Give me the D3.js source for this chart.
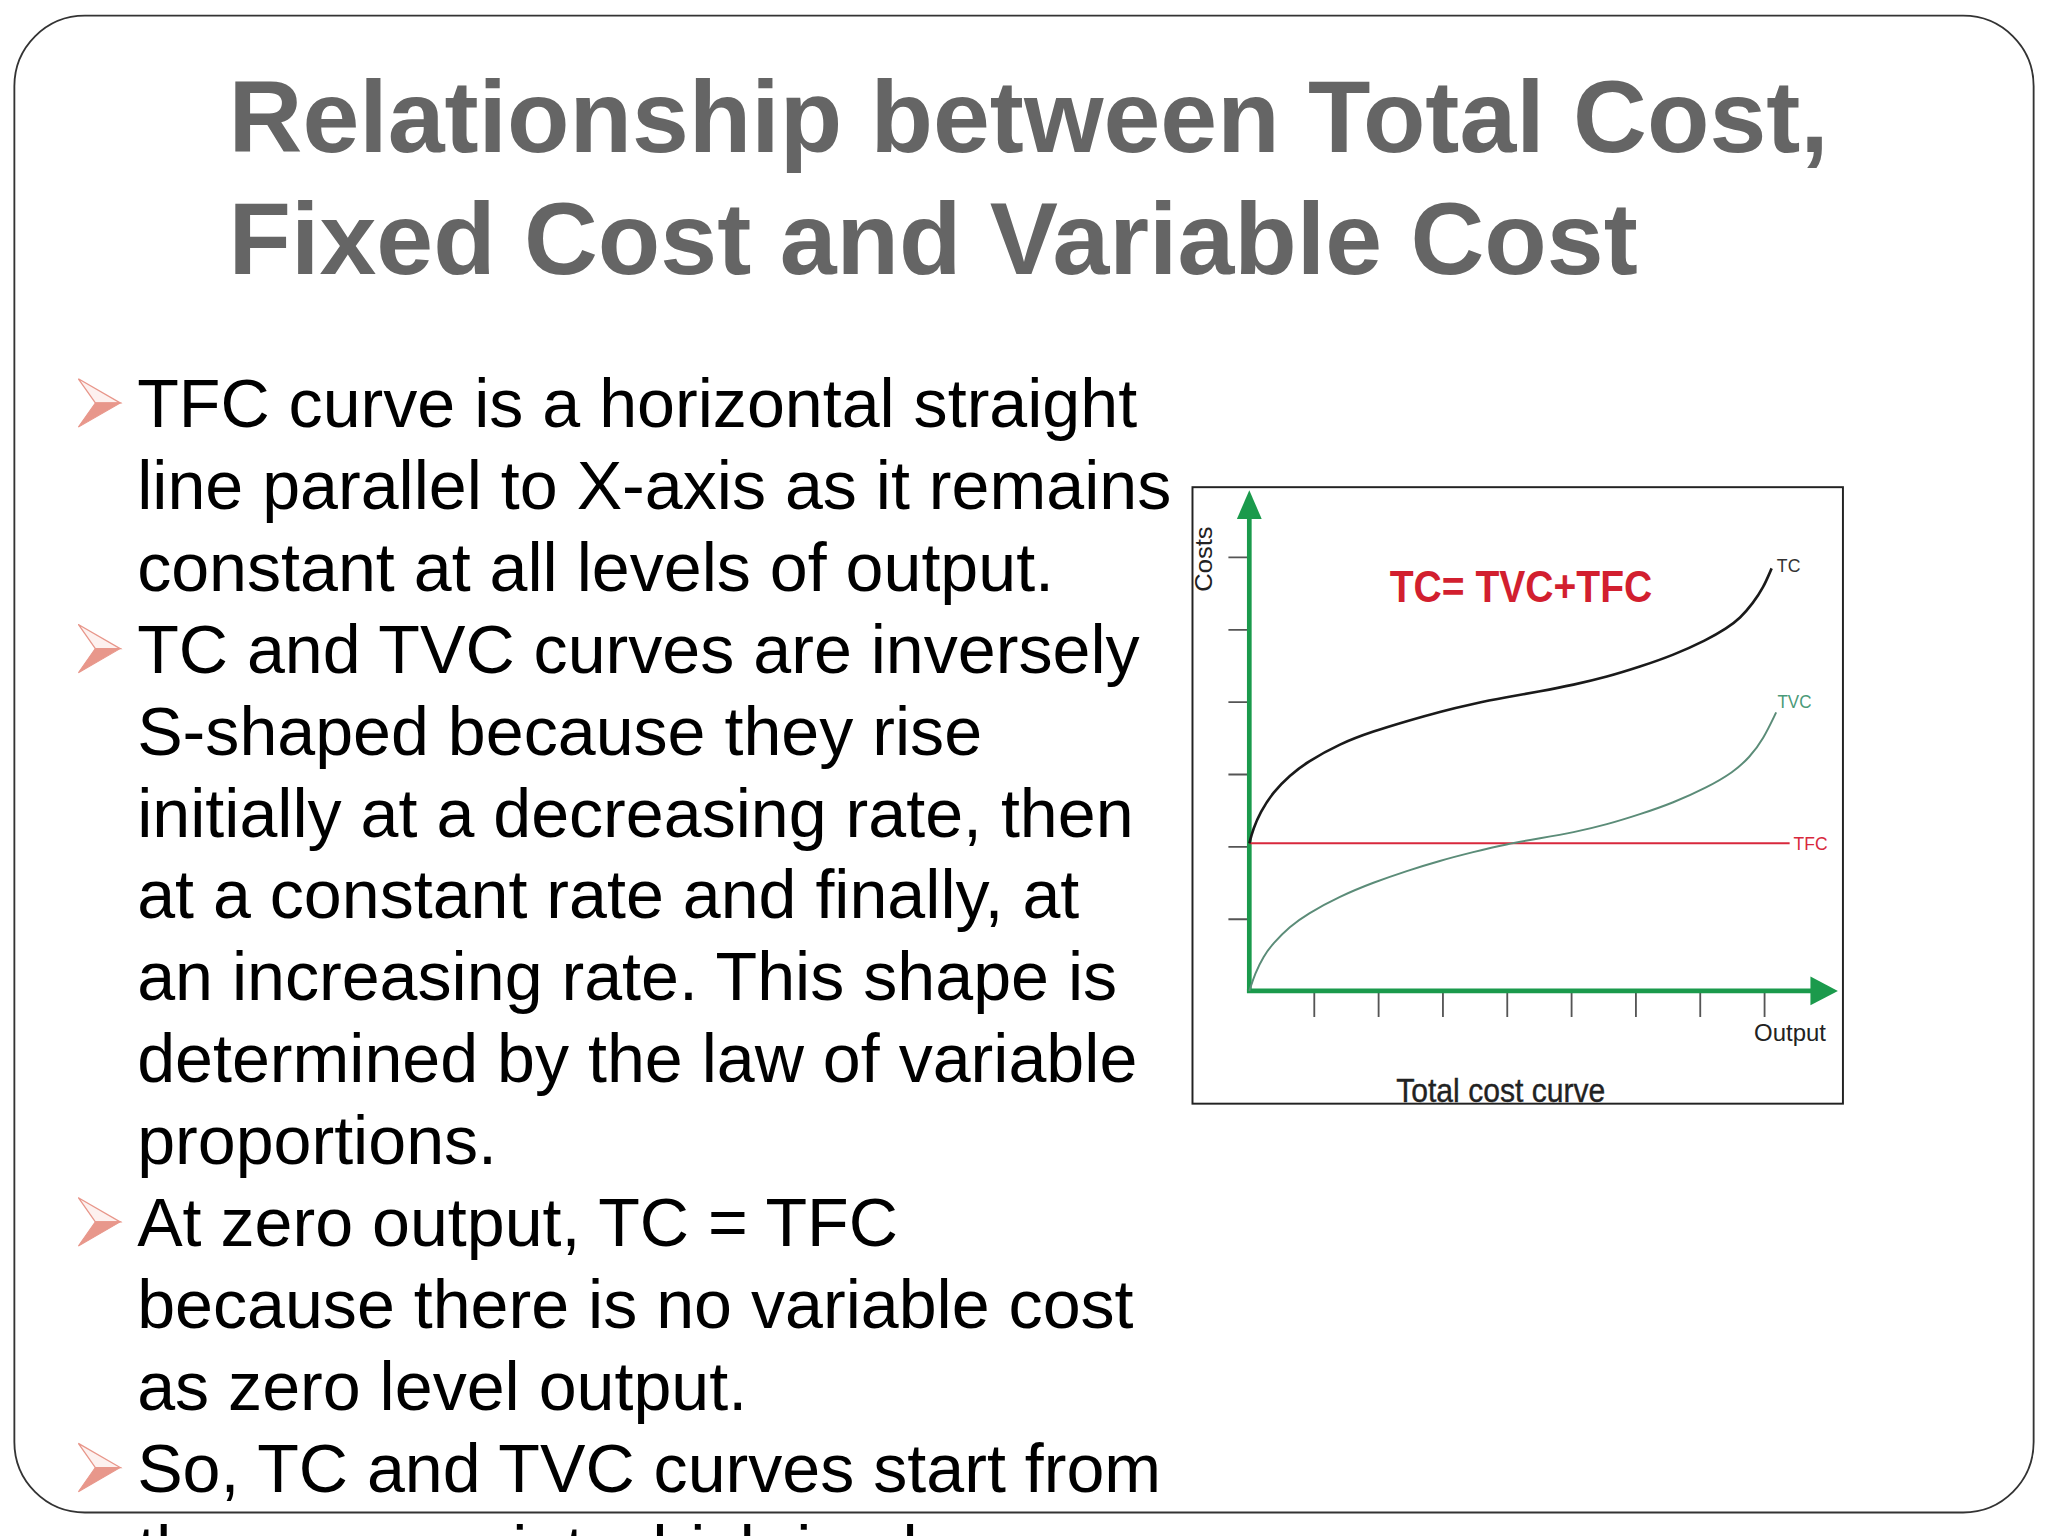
<!DOCTYPE html>
<html>
<head>
<meta charset="utf-8">
<script src="https://cdn.jsdelivr.net/npm/d3@7"></script>
<style>
  html, body { margin: 0; padding: 0; background: #fff; }
  svg { display: block; }
  text { font-family: "Liberation Sans", Arial, sans-serif; }
</style>
</head>
<body>
<svg id="slide" width="2048" height="1536" viewBox="0 0 1568 1176"></svg>
<script>
// slide text
const titleLines = ["Relationship between Total Cost,", "Fixed Cost and Variable Cost"];
const bodyLines = [
  "TFC curve is a horizontal straight",
  "line parallel to X-axis as it remains",
  "constant at all levels of output.",
  "TC and TVC curves are inversely",
  "S-shaped because they rise",
  "initially at a decreasing rate, then",
  "at a constant rate and finally, at",
  "an increasing rate. This shape is",
  "determined by the law of variable",
  "proportions.",
  "At zero output, TC = TFC",
  "because there is no variable cost",
  "as zero level output.",
  "So, TC and TVC curves start from",
  "the same point which is also"
];
const bulletRows = [0, 3, 10, 13];

// chart data (output units, cost units)
const xTicks = [1, 2, 3, 4, 5, 6, 7, 8];
const yTicks = [1, 2, 3, 4, 5, 6];
const tcOutput = [0, 0.06, 0.17, 0.37, 0.63, 0.89, 1.41, 1.93, 2.45, 2.96, 3.48, 4.0, 4.52, 5.04, 5.56, 6.07, 6.59, 7.11, 7.42, 7.63, 7.83, 7.99, 8.12];
const tcCost   = [2.04, 2.24, 2.47, 2.75, 2.98, 3.16, 3.42, 3.59, 3.73, 3.86, 3.97, 4.06, 4.14, 4.23, 4.34, 4.48, 4.64, 4.85, 5.01, 5.15, 5.36, 5.57, 5.84];
const tvcOutput = [0, 0.09, 0.22, 0.37, 0.63, 0.89, 1.41, 1.93, 2.45, 2.96, 3.48, 4.0, 4.52, 5.04, 5.56, 6.07, 6.59, 7.11, 7.52, 7.78, 7.99, 8.19];
const tvcCost   = [0, 0.245, 0.48, 0.66, 0.89, 1.06, 1.31, 1.50, 1.66, 1.80, 1.92, 2.03, 2.11, 2.19, 2.30, 2.44, 2.60, 2.81, 3.02, 3.23, 3.48, 3.85];
const tfcOutput = [0, 8.4];
const tfcCost = [2.04, 2.04];
const xMax = 9.15, yMax = 6.92;

const svg = d3.select("#slide");

// slide frame
svg.append("rect")
  .attr("x", 11).attr("y", 12).attr("width", 1546).attr("height", 1146)
  .attr("rx", 54).attr("ry", 54)
  .attr("fill", "#fff").attr("stroke", "#333").attr("stroke-width", 1.4);

// title
svg.append("g").selectAll("text").data(titleLines).join("text")
  .attr("x", 175).attr("y", (d, i) => 116 + i * 94)
  .attr("font-size", 78.3).attr("font-weight", "bold").attr("fill", "#656565")
  .text(d => d);

// body text
const lineH = 62.7;
svg.append("g").selectAll("text").data(bodyLines).join("text")
  .attr("x", 105).attr("y", (d, i) => 327 + i * lineH)
  .attr("font-size", 52.2).attr("fill", "#000")
  .text(d => d);

// bullets
const bul = svg.append("g").selectAll("g").data(bulletRows).join("g")
  .attr("transform", d => `translate(60,${327 + d * lineH - 37})`);
bul.append("path").attr("d", "M0,0 L32,18.5 L13,18.5 Z")
  .attr("fill", "#fdf1ef").attr("stroke", "#e8968a").attr("stroke-width", 1);
bul.append("path").attr("d", "M13,18.5 L32,18.5 L0,37 Z")
  .attr("fill", "#e8978b").attr("stroke", "#e8978b").attr("stroke-width", 0.8);

// chart box
const box = { x: 913, y: 373, w: 498, h: 472 };
svg.append("clipPath").attr("id", "boxclip").append("rect")
  .attr("x", box.x).attr("y", box.y).attr("width", box.w).attr("height", box.h);
svg.append("rect")
  .attr("x", box.x).attr("y", box.y).attr("width", box.w).attr("height", box.h)
  .attr("fill", "#fff").attr("stroke", "#222").attr("stroke-width", 1.5);

const chart = svg.append("g").attr("clip-path", "url(#boxclip)");

const x = d3.scaleLinear().domain([0, 8]).range([956.5, 956.5 + 8 * 49.25]);
const y = d3.scaleLinear().domain([0, 6]).range([758.7, 758.7 - 6 * 55.4]);

// ticks
chart.append("g")
  .attr("transform", `translate(0,${y(0)})`)
  .call(d3.axisBottom(x).tickValues(xTicks).tickSize(20).tickFormat(""))
  .call(g => g.select(".domain").remove())
  .call(g => g.selectAll("line").attr("stroke", "#555").attr("stroke-width", 1.4));
chart.append("g")
  .attr("transform", `translate(${x(0)},0)`)
  .call(d3.axisLeft(y).tickValues(yTicks).tickSize(16).tickFormat(""))
  .call(g => g.select(".domain").remove())
  .call(g => g.selectAll("line").attr("stroke", "#555").attr("stroke-width", 1.4));

// axes with arrowheads
const green = "#1b9a4c";
chart.append("line")
  .attr("x1", x(0)).attr("y1", y(0) + 1.5).attr("x2", x(0)).attr("y2", y(yMax) + 18)
  .attr("stroke", green).attr("stroke-width", 3.6);
chart.append("path")
  .attr("d", `M${x(0)},${y(yMax)} L${x(0) + 9.5},${y(yMax) + 22} L${x(0) - 9.5},${y(yMax) + 22} Z`)
  .attr("fill", green);
chart.append("line")
  .attr("x1", x(0) - 1.8).attr("y1", y(0)).attr("x2", x(xMax) - 18).attr("y2", y(0))
  .attr("stroke", green).attr("stroke-width", 3.6);
chart.append("path")
  .attr("d", `M${x(xMax)},${y(0)} L${x(xMax) - 21},${y(0) - 11} L${x(xMax) - 21},${y(0) + 11} Z`)
  .attr("fill", green);

// curves
const line = d3.line().x(d => x(d[0])).y(d => y(d[1])).curve(d3.curveBasis);
const series = [
  { key: "TFC", pts: d3.zip(tfcOutput, tfcCost), color: "#d8283c", width: 1.5, labelColor: "#d8283c", dx: 3, dy: 5 },
  { key: "TVC", pts: d3.zip(tvcOutput, tvcCost), color: "#5b8c78", width: 1.5, labelColor: "#4a9a78", dx: 1, dy: -3 },
  { key: "TC", pts: d3.zip(tcOutput, tcCost), color: "#1a1a1a", width: 2, labelColor: "#333", dx: 4, dy: 3 }
];
chart.append("g").selectAll("path").data(series).join("path")
  .attr("d", d => line(d.pts))
  .attr("fill", "none").attr("stroke", d => d.color).attr("stroke-width", d => d.width);
chart.append("g").selectAll("text").data(series).join("text")
  .attr("x", d => x(d.pts[d.pts.length - 1][0]) + d.dx)
  .attr("y", d => y(d.pts[d.pts.length - 1][1]) + d.dy)
  .attr("font-size", 13.5).attr("fill", d => d.labelColor)
  .attr("textLength", d => d.key === "TC" ? 18 : 26).attr("lengthAdjust", "spacingAndGlyphs")
  .text(d => d.key);

// chart texts
chart.append("text")
  .attr("x", 1064).attr("y", 461).attr("font-size", 34).attr("font-weight", "bold")
  .attr("fill", "#d21f2f").attr("textLength", 201).attr("lengthAdjust", "spacingAndGlyphs")
  .text("TC= TVC+TFC");
chart.append("text")
  .attr("transform", "translate(928,453) rotate(-90)")
  .attr("font-size", 18).attr("fill", "#222")
  .attr("textLength", 50).attr("lengthAdjust", "spacingAndGlyphs")
  .text("Costs");
chart.append("text")
  .attr("x", 1343).attr("y", 797).attr("font-size", 19).attr("fill", "#222")
  .attr("textLength", 55).attr("lengthAdjust", "spacingAndGlyphs")
  .text("Output");
chart.append("text")
  .attr("x", 1069).attr("y", 844).attr("font-size", 25).attr("fill", "#222")
  .attr("stroke", "#222").attr("stroke-width", 0.3)
  .attr("textLength", 160).attr("lengthAdjust", "spacingAndGlyphs")
  .text("Total cost curve");
</script>
</body>
</html>
